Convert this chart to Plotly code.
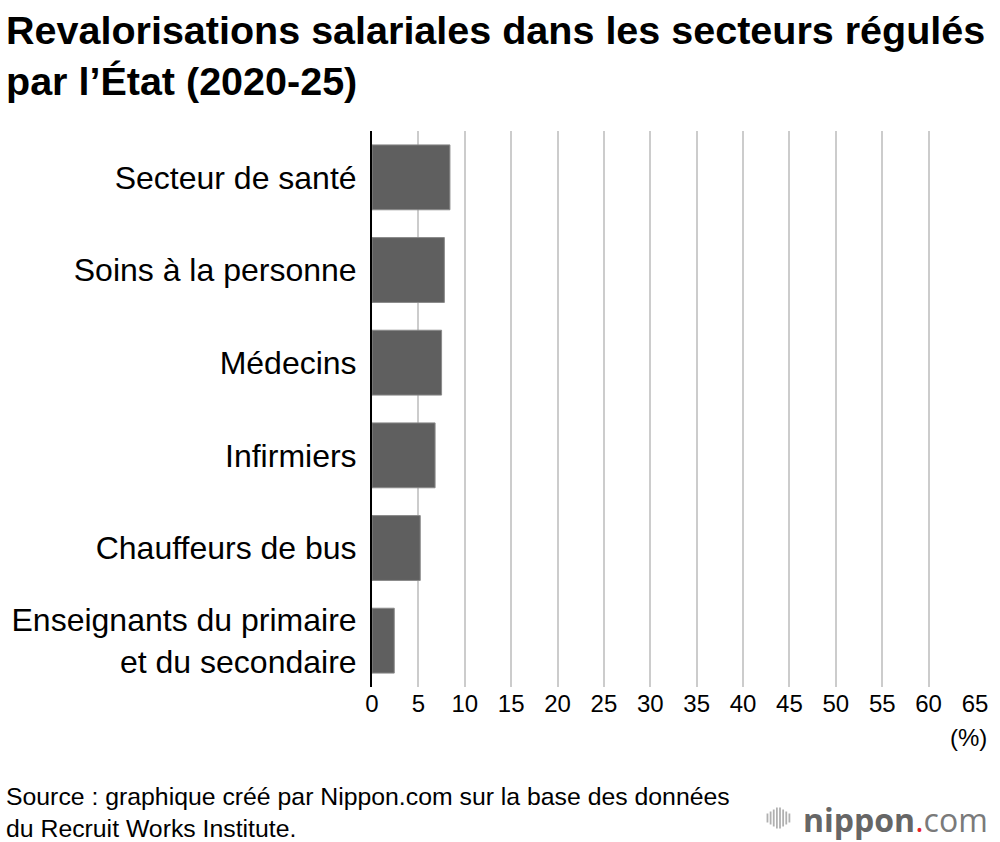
import plotly.graph_objects as go

categories = [
    "Secteur de santé",
    "Soins à la personne",
    "Médecins",
    "Infirmiers",
    "Chauffeurs de bus",
    "Enseignants du primaire<br>et du secondaire",
]
values = [8.4, 7.8, 7.5, 6.8, 5.2, 2.4]
x_ticks = list(range(0, 70, 5))

W, H = 1000, 842
L, R, T, B = 369, 15, 131, 155
PW, PH = W - L - R, H - T - B


def px(xp):
    return (xp - L) / PW


def py(yp):
    return (H - B - yp) / PH


FONT = "Liberation Sans, Arial, Helvetica, sans-serif"

fig = go.Figure(
    go.Bar(
        x=values,
        y=categories,
        orientation="h",
        marker=dict(color="#5f5f5f", line=dict(color="#8a8a8a", width=1)),
        hoverinfo="x+y",
    )
)

fig.update_layout(
    width=W,
    height=H,
    margin=dict(l=L, r=R, t=T, b=B, pad=0),
    paper_bgcolor="white",
    plot_bgcolor="white",
    bargap=0.3,
    showlegend=False,
    font=dict(family=FONT, color="black"),
    xaxis=dict(
        range=[0, 65],
        tickvals=x_ticks,
        ticktext=[str(v) for v in x_ticks],
        showgrid=True,
        gridcolor="#cccccc",
        gridwidth=2,
        zeroline=False,
        showline=False,
        ticks="",
        ticklabeloverflow="allow",
        tickfont=dict(size=24, color="black"),
        fixedrange=True,
    ),
    yaxis=dict(
        categoryorder="array",
        categoryarray=categories[::-1],
        autorange=False,
        range=[-0.5, len(categories) - 0.5],
        showgrid=False,
        zeroline=False,
        showline=True,
        linecolor="black",
        linewidth=2,
        ticks="",
        ticklabelstandoff=7,
        tickfont=dict(size=32, color="black"),
        fixedrange=True,
    ),
)

# Title
fig.add_annotation(
    text="<b>Revalorisations salariales dans les secteurs régulés<br>par l’État (2020-25)</b>",
    xref="paper", yref="paper",
    x=px(3), y=py(6),
    xshift=-10,
    xanchor="left", yanchor="top",
    align="left",
    showarrow=False,
    font=dict(family=FONT, size=39.5, color="black"),
)

# (%) unit label
fig.add_annotation(
    text="(%)",
    xref="paper", yref="paper",
    x=px(999), y=py(722),
    xanchor="right", yanchor="top",
    showarrow=False,
    font=dict(size=24, color="black"),
)

# Source
fig.add_annotation(
    text="Source : graphique créé par Nippon.com sur la base des données<br>du Recruit Works Institute.",
    xref="paper", yref="paper",
    x=px(3), y=py(781),
    xshift=-10,
    xanchor="left", yanchor="top",
    align="left",
    showarrow=False,
    font=dict(size=24.8, color="black"),
)

# Logo text
fig.add_annotation(
    text="<b>nippon</b><span style='color:#e8202a'>.</span><span style='color:#7a7a7a'>com</span>",
    xref="paper", yref="paper",
    x=px(1000), y=py(819),
    xanchor="right", yanchor="middle",
    showarrow=False,
    font=dict(family="Open Sans, Noto Sans, sans-serif", size=32, color="#666666"),
)

# Logo icon (decorative vertical strokes)
icon_heights = [9, 13, 17, 21, 21, 17, 13, 9]
for i, h in enumerate(icon_heights):
    xc = 773 + i * 3.2
    fig.add_shape(
        type="line",
        xref="paper", yref="paper",
        x0=px(xc), x1=px(xc),
        y0=py(818 - h / 2), y1=py(818 + h / 2),
        line=dict(color="#b0b0b0", width=1.8),
    )

fig.write_html("out.html")
